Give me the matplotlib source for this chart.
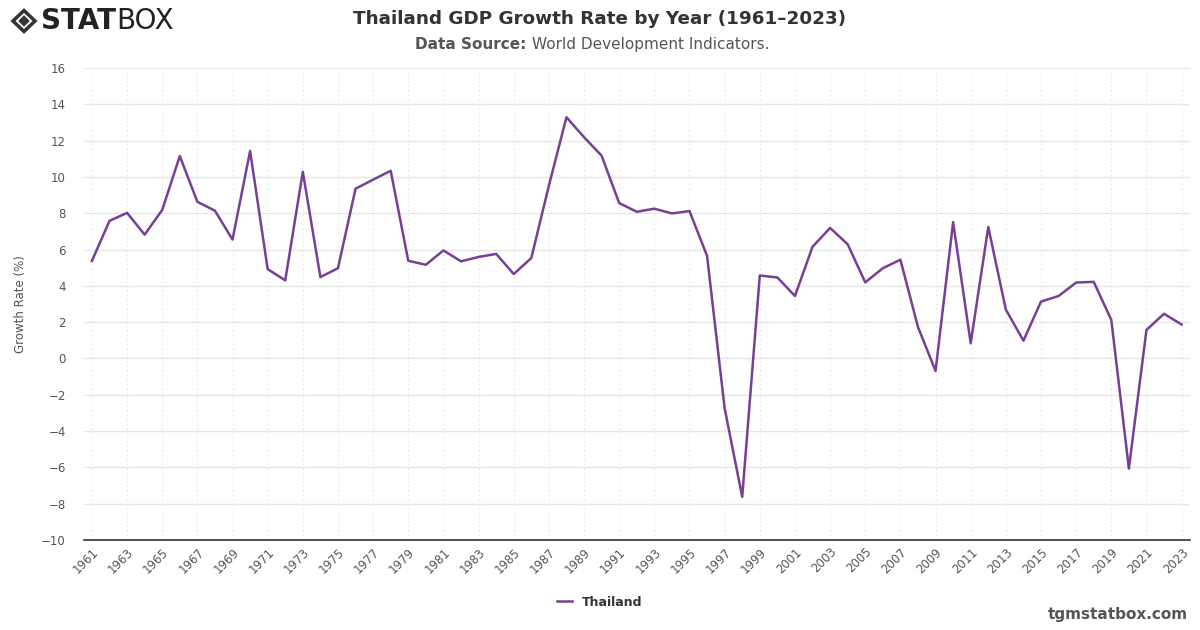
import matplotlib
matplotlib.use('Agg')
import matplotlib.pyplot as plt
from matplotlib.patches import Polygon

# Data (World Development Indicators)
years = list(range(1961, 2024))
growth = [5.37, 7.58, 8.02, 6.82, 8.18, 11.15, 8.63, 8.14, 6.55, 11.43,
          4.92, 4.30, 10.28, 4.48, 4.97, 9.35, 9.85, 10.34, 5.38, 5.16,
          5.95, 5.35, 5.59, 5.76, 4.65, 5.53, 9.52, 13.29, 12.19, 11.17,
          8.56, 8.08, 8.25, 7.99, 8.12, 5.65, -2.75, -7.63, 4.57, 4.46,
          3.44, 6.15, 7.19, 6.29, 4.19, 4.97, 5.44, 1.73, -0.69, 7.51,
          0.84, 7.24, 2.69, 0.98, 3.13, 3.44, 4.18, 4.22, 2.12, -6.07,
          1.57, 2.46, 1.87]
tick_years = list(range(1961, 2024, 2))
y_ticks = list(range(-10, 17, 2))

plt.rcParams['font.family'] = ['DejaVu Sans']

fig = plt.figure(figsize=(12, 6.3), dpi=100)
ax = fig.add_axes([0.07, 0.143, 0.922, 0.749])

line_color = '#773f95'
ax.plot(years, growth, color=line_color, linewidth=1.8, label='Thailand')

ax.set_xlim(1960.55, 2023.5)
ax.set_ylim(-10, 16)
ax.set_yticks(y_ticks)
ax.set_yticklabels([str(v).replace('-', '\u2212') for v in y_ticks])
ax.set_xticks(tick_years)
ax.set_xticklabels([str(y) for y in tick_years], rotation=45, ha='right',
                   rotation_mode='anchor')

ax.grid(axis='y', color='#e6e6e6', linewidth=1)
ax.grid(axis='x', color='#dddddd', linewidth=0.8, linestyle=(0, (1, 3)))
ax.set_axisbelow(True)
for s in ['top', 'right', 'left']:
    ax.spines[s].set_visible(False)
ax.spines['bottom'].set_color('#333333')
ax.spines['bottom'].set_linewidth(1.2)
ax.tick_params(axis='y', length=0, labelsize=8.5, labelcolor='#555555', pad=13)
ax.tick_params(axis='x', length=0, labelsize=8.5, labelcolor='#555555', pad=4)
ax.set_ylabel('Growth Rate (%)', fontsize=8.5, color='#555555', labelpad=10)

# Title and subtitle
fig.text(0.5, 0.97, 'Thailand GDP Growth Rate by Year (1961\u20132023)',
         ha='center', va='center', fontsize=13.2, fontweight='bold', color='#333333')
fig.text(0.443, 0.929, 'Data Source: ', ha='right', va='center', fontsize=11,
         fontweight='bold', color='#555555')
fig.text(0.443, 0.929, 'World Development Indicators.', ha='left', va='center',
         fontsize=11, color='#555555')

# Logo
dx, dy = 22 / 1200, 21 / 630
cx, cy = 24 / 1200, 1 - 21 / 630
fig.patches.append(Polygon([[cx - dx / 2, cy], [cx, cy + dy / 2], [cx + dx / 2, cy], [cx, cy - dy / 2]],
                           closed=True, transform=fig.transFigure, facecolor='none',
                           edgecolor='#333333', linewidth=2.5))
fig.patches.append(Polygon([[cx - dx / 4.5, cy], [cx, cy + dy / 4.5], [cx + dx / 4.5, cy], [cx, cy - dy / 4.5]],
                           closed=True, transform=fig.transFigure, facecolor='#333333',
                           edgecolor='#333333'))
fig.text(41 / 1200, cy, 'STAT', ha='left', va='center', fontsize=20,
         fontweight='heavy', color='#222222')
fig.text(116 / 1200, cy, 'BOX', ha='left', va='center', fontsize=20,
         color='#222222')

# Legend
leg = fig.legend(loc='center', bbox_to_anchor=(0.5, 0.044), frameon=False,
                 fontsize=9, handlelength=1.2)
for t in leg.get_texts():
    t.set_fontweight('bold')
    t.set_color('#333333')

fig.text(0.99, 0.025, 'tgmstatbox.com', ha='right', va='center', fontsize=11,
         fontweight='bold', color='#555555')

fig.savefig('out.png', dpi=100, facecolor='white')
